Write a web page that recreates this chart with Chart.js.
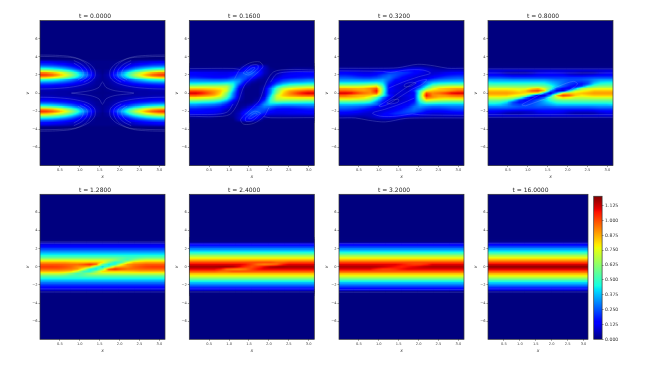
<!DOCTYPE html>
<html><head><meta charset="utf-8">
<script src="https://cdn.jsdelivr.net/npm/chart.js@4/dist/chart.umd.js"></script>
<style>html,body{margin:0;padding:0;background:#fff;overflow:hidden}#w{position:relative;width:668px;height:366px}canvas{position:absolute}</style>
</head><body><div id="w"></div>
<script>
// grid nodes
const xNodes21=[0,.157,.314,.471,.628,.785,.942,1.1,1.257,1.414,1.571,1.728,1.885,2.042,2.199,2.356,2.513,2.67,2.827,2.985,3.1416];
const xNodes2=[0,3.1416];
const vNodes29=[3.5,3.25,3,2.75,2.5,2.25,2,1.75,1.5,1.25,1,.75,.5,.25,0,-.25,-.5,-.75,-1,-1.25,-1.5,-1.75,-2,-2.25,-2.5,-2.75,-3,-3.25,-3.5];
const vNodes25=[3,2.75,2.5,2.25,2,1.75,1.5,1.25,1,.75,.5,.25,0,-.25,-.5,-.75,-1,-1.25,-1.5,-1.75,-2,-2.25,-2.5,-2.75,-3];
const xTicks=[.5,1,1.5,2,2.5,3];
const vTicks=[-6,-4,-2,0,2,4,6];
const cbTicks=[0,.125,.25,.375,.5,.625,.75,.875,1,1.125];
const titles=['t = 0.0000','t = 0.1600','t = 0.3200','t = 0.8000','t = 1.2800','t = 2.4000','t = 3.2000','t = 16.0000'];
// values in hundredths, rows from top (high v) to bottom
const f0000=[
[10,10,9,8,7,5,3,2,1,1,1,1,1,2,3,5,7,8,9,10,10],
[17,17,16,14,12,9,7,4,2,1,1,1,2,4,7,9,12,14,16,17,17],
[28,27,26,23,20,16,11,7,3,1,1,1,3,7,11,16,20,23,26,27,28],
[44,43,41,37,32,26,18,12,6,1,1,1,6,12,18,26,32,37,41,43,44],
[65,64,60,55,48,40,29,19,10,3,1,3,10,19,29,40,48,55,60,64,65],
[92,90,85,78,68,57,43,28,15,4,1,4,15,28,43,57,68,78,85,90,92],
[105,103,98,89,78,65,49,34,20,6,2,6,20,34,49,65,78,89,98,103,105],
[89,87,83,76,66,55,42,28,16,5,2,5,16,28,42,55,66,76,83,87,89],
[53,52,49,45,39,33,25,17,10,4,2,4,10,17,25,33,39,45,49,52,53],
[36,35,34,31,27,23,17,12,7,3,2,3,7,12,17,23,27,31,34,35,36],
[22,22,21,19,17,14,11,8,5,3,2,3,5,8,11,14,17,19,21,22,22],
[13,13,12,11,10,8,7,5,4,2,2,2,4,5,7,8,10,11,12,13,13],
[8,8,8,7,7,6,5,4,3,2,1,2,3,4,5,6,7,7,8,8,8],
[5,5,5,4,4,4,3,3,2,2,1,2,2,3,3,4,4,4,5,5,5],
[4,4,4,4,4,3,3,2,2,1,1,1,2,2,3,3,4,4,4,4,4],
[5,5,5,4,4,4,3,3,2,2,1,2,2,3,3,4,4,4,5,5,5],
[8,8,8,7,7,6,5,4,3,2,1,2,3,4,5,6,7,7,8,8,8],
[13,13,12,11,10,8,7,5,4,2,2,2,4,5,7,8,10,11,12,13,13],
[22,22,21,19,17,14,11,8,5,3,2,3,5,8,11,14,17,19,21,22,22],
[36,35,34,31,27,23,17,12,7,3,2,3,7,12,17,23,27,31,34,35,36],
[53,52,49,45,39,33,25,17,10,4,2,4,10,17,25,33,39,45,49,52,53],
[89,87,83,76,66,55,42,28,16,5,2,5,16,28,42,55,66,76,83,87,89],
[105,103,98,89,78,65,49,34,20,6,2,6,20,34,49,65,78,89,98,103,105],
[92,90,85,78,68,57,43,28,15,4,1,4,15,28,43,57,68,78,85,90,92],
[65,64,60,55,48,40,29,19,10,3,1,3,10,19,29,40,48,55,60,64,65],
[44,43,41,37,32,26,18,12,6,1,1,1,6,12,18,26,32,37,41,43,44],
[28,27,26,23,20,16,11,7,3,1,1,1,3,7,11,16,20,23,26,27,28],
[17,17,16,14,12,9,7,4,2,1,1,1,2,4,7,9,12,14,16,17,17],
[10,10,9,8,7,5,3,2,1,1,1,1,1,2,3,5,7,8,9,10,10]];
const f0160=[
[0,0,0,0,0,0,0,0,0,5,10,12,6,0,0,0,0,0,0,0,0],
[2,2,2,2,2,2,2,2,4,13,18,17,8,1,0,0,1,2,2,2,2],
[6,6,6,6,6,6,6,6,8,17,21,17,7,2,1,3,5,6,6,6,6],
[13,13,12,12,12,11,11,12,18,24,25,19,7,2,3,8,11,12,13,13,13],
[15,15,14,13,12,12,12,15,22,26,24,15,5,2,5,11,13,14,15,15,15],
[18,18,17,16,15,15,16,21,25,24,18,9,3,3,8,13,15,16,17,18,18],
[27,27,26,25,24,24,25,29,30,22,11,4,2,5,13,19,22,24,25,27,27],
[35,35,35,35,35,35,37,40,32,14,5,2,2,8,18,26,30,32,33,35,35],
[48,48,49,50,50,51,52,46,26,8,2,1,2,11,26,37,43,45,46,48,48],
[65,65,66,66,66,67,67,48,18,4,1,1,4,18,40,52,58,61,63,65,65],
[82,82,82,81,80,78,72,44,12,2,1,1,6,28,52,68,74,78,80,82,82],
[100,100,98,94,90,84,72,38,8,1,1,1,7,30,58,78,88,92,96,100,100],
[112,112,108,100,92,82,62,32,8,1,1,1,8,32,62,82,92,100,108,112,112],
[100,100,96,92,88,78,58,30,7,1,1,1,8,38,72,84,90,94,98,100,100],
[82,82,80,78,74,68,52,28,6,1,1,2,12,44,72,78,80,81,82,82,82],
[65,65,63,61,58,52,40,18,4,1,1,4,18,48,67,67,66,66,66,65,65],
[48,48,46,45,43,37,26,11,2,1,2,8,26,46,52,51,50,50,49,48,48],
[35,35,33,32,30,26,18,8,2,2,5,14,32,40,37,35,35,35,35,35,35],
[27,27,25,24,22,19,13,5,2,4,11,22,30,29,25,24,24,25,26,27,27],
[18,18,17,16,15,13,8,3,3,9,18,24,25,21,16,15,15,16,17,18,18],
[15,15,15,14,13,11,5,2,5,15,24,26,22,15,12,12,12,13,14,15,15],
[13,13,13,12,11,8,3,2,7,19,25,24,18,12,11,11,12,12,12,13,13],
[6,6,6,6,5,3,1,2,7,17,21,17,8,6,6,6,6,6,6,6,6],
[2,2,2,2,1,0,0,1,8,17,18,13,4,2,2,2,2,2,2,2,2],
[0,0,0,0,0,0,0,0,6,12,10,5,0,0,0,0,0,0,0,0,0]];
const f0320=[
[0,0,0,0,0,0,0,0,0,0,1,2,3,3,2,1,0,0,0,0,0],
[3,3,3,3,3,3,3,3,3,3,5,8,9,9,7,5,3,3,3,3,3],
[7,7,7,7,6,6,7,8,10,12,14,16,15,13,10,7,6,6,7,7,7],
[13,13,12,11,10,10,12,15,20,22,22,20,16,12,9,8,9,11,12,13,13],
[18,18,17,15,14,14,16,22,26,24,20,16,12,10,9,10,12,15,17,18,18],
[24,24,23,21,20,20,22,26,28,22,16,12,10,9,10,14,18,21,23,24,24],
[30,30,30,29,28,28,30,33,27,17,13,11,9,10,16,22,26,28,29,30,30],
[38,38,38,38,38,39,40,38,22,13,11,9,8,16,27,33,36,37,38,38,38],
[52,52,52,53,54,56,58,44,18,11,10,6,7,16,30,45,50,51,52,52,52],
[70,70,70,70,72,75,80,52,15,10,8,4,10,22,42,60,66,68,70,70,70],
[88,88,87,86,87,92,98,58,14,10,8,5,14,30,55,72,82,85,87,88,88],
[98,98,96,92,90,92,108,58,14,11,9,8,20,50,78,85,87,88,92,97,98],
[112,112,110,102,96,92,100,55,13,9,8,9,13,55,100,92,96,102,110,112,112],
[98,97,92,88,87,85,78,50,20,8,9,11,14,58,108,92,90,92,96,98,98],
[88,88,87,85,82,72,55,30,14,5,8,10,14,58,98,92,87,86,87,88,88],
[70,70,70,68,66,60,42,22,10,4,8,10,15,52,80,75,72,70,70,70,70],
[52,52,52,51,50,45,30,16,7,6,10,11,18,44,58,56,54,53,52,52,52],
[38,38,38,37,36,33,27,16,8,9,11,13,22,38,40,39,38,38,38,38,38],
[30,30,29,28,26,22,16,10,9,11,13,17,27,33,30,28,28,29,30,30,30],
[24,24,23,21,18,14,10,9,10,12,16,22,28,26,22,20,20,21,23,24,24],
[18,18,17,15,12,10,9,10,12,16,20,24,26,22,16,14,14,15,17,18,18],
[13,13,12,11,9,8,9,12,16,20,22,22,20,15,12,10,10,11,12,13,13],
[7,7,7,6,6,7,10,13,15,16,14,12,10,8,7,6,6,7,7,7,7],
[3,3,3,3,3,5,7,9,9,8,5,3,3,3,3,3,3,3,3,3,3],
[0,0,0,0,0,1,2,3,3,2,1,0,0,0,0,0,0,0,0,0,0]];
const f0800=[
[0,0,0,0,0,0,0,0,0,0,0,0,0,0,0,0,0,0,0,0,0],
[2,2,2,2,2,2,2,2,2,2,2,2,2,2,2,2,2,2,2,2,2],
[9,9,9,9,9,9,9,9,9,9,9,9,9,9,9,9,9,9,9,9,9],
[10,10,8,5,4,4,4,6,9,10,11,10,9,7,6,4,4,5,8,10,10],
[14,14,13,11,10,10,10,11,13,14,14,14,13,10,9,9,10,11,13,14,14],
[22,22,22,21,20,20,20,20,20,20,20,20,20,20,20,20,21,22,22,22,22],
[32,32,32,31,30,30,30,30,30,30,28,26,26,24,24,25,27,30,32,32,32],
[42,40,40,40,40,40,40,40,40,40,36,32,28,24,22,21,24,34,40,42,42],
[50,50,50,50,50,50,50,50,50,48,42,35,28,22,18,16,24,42,48,50,50],
[60,60,60,60,60,60,60,60,60,58,50,38,26,18,14,22,45,55,60,60,60],
[74,74,74,74,73,72,72,80,85,72,55,25,14,10,32,62,70,73,74,74,74],
[85,85,85,85,83,80,85,98,102,85,32,9,8,40,70,76,80,85,85,85,85],
[90,90,90,90,88,85,82,82,78,34,7,34,78,82,82,85,88,90,90,90,90],
[85,85,85,85,80,76,70,40,8,9,32,85,102,98,85,80,83,85,85,85,85],
[74,74,74,73,70,62,32,10,14,25,55,72,85,80,72,72,73,74,74,74,74],
[60,60,60,55,45,22,14,18,26,38,50,58,60,60,60,60,60,60,60,60,60],
[50,50,48,42,24,16,18,22,28,35,42,48,50,50,50,50,50,50,50,50,50],
[42,42,40,34,24,21,22,24,28,32,36,40,40,40,40,40,40,40,40,40,42],
[32,32,32,30,27,25,24,24,26,26,28,30,30,30,30,30,30,31,32,32,32],
[22,22,22,22,21,20,20,20,20,20,20,20,20,20,20,20,20,21,22,22,22],
[14,14,13,11,10,9,9,10,13,14,14,14,13,11,10,10,10,11,13,14,14],
[10,10,8,5,4,4,6,7,9,10,11,10,9,6,4,4,4,5,8,10,10],
[9,9,9,9,9,9,9,9,9,9,9,9,9,9,9,9,9,9,9,9,9],
[2,2,2,2,2,2,2,2,2,2,2,2,2,2,2,2,2,2,2,2,2],
[0,0,0,0,0,0,0,0,0,0,0,0,0,0,0,0,0,0,0,0,0]];
const f1280=[
[0,0,0,0,0,0,0,0,0,0,0,0,0,0,0,0,0,0,0,0,0],
[2,2,2,2,2,2,2,2,2,2,2,2,2,2,2,2,2,2,2,2,2],
[10,10,10,10,10,10,10,10,10,10,10,10,10,10,10,10,10,10,10,10,10],
[15,15,15,15,15,15,15,15,15,15,15,15,15,15,15,15,15,15,15,15,15],
[21,21,21,21,21,21,21,21,21,21,21,21,21,21,21,21,21,21,21,21,21],
[30,30,30,30,30,30,30,30,30,30,30,30,30,30,30,30,30,30,30,30,30],
[38,38,38,38,38,38,38,38,38,38,38,38,38,38,38,38,38,38,38,38,38],
[46,46,46,46,46,46,46,46,46,46,46,46,46,46,46,46,46,46,46,46,46],
[57,57,57,57,57,57,57,57,57,57,57,57,57,55,52,52,55,57,57,57,57],
[73,73,73,73,73,73,73,73,72,72,72,70,64,56,52,62,70,73,73,73,73],
[88,88,88,88,88,86,85,84,85,85,82,62,46,50,72,84,86,88,88,88,88],
[98,98,98,98,97,96,96,100,106,100,60,42,45,75,90,94,96,98,98,98,98],
[103,103,103,102,100,97,92,90,85,55,40,55,85,90,92,97,100,102,103,103,103],
[98,98,98,98,96,94,90,75,45,42,60,100,106,100,96,96,97,98,98,98,98],
[88,88,88,88,86,84,72,50,46,62,82,85,85,84,85,86,88,88,88,88,88],
[73,73,73,73,70,62,52,56,64,70,72,72,72,73,73,73,73,73,73,73,73],
[57,57,57,57,55,52,52,55,57,57,57,57,57,57,57,57,57,57,57,57,57],
[46,46,46,46,46,46,46,46,46,46,46,46,46,46,46,46,46,46,46,46,46],
[38,38,38,38,38,38,38,38,38,38,38,38,38,38,38,38,38,38,38,38,38],
[30,30,30,30,30,30,30,30,30,30,30,30,30,30,30,30,30,30,30,30,30],
[21,21,21,21,21,21,21,21,21,21,21,21,21,21,21,21,21,21,21,21,21],
[15,15,15,15,15,15,15,15,15,15,15,15,15,15,15,15,15,15,15,15,15],
[10,10,10,10,10,10,10,10,10,10,10,10,10,10,10,10,10,10,10,10,10],
[2,2,2,2,2,2,2,2,2,2,2,2,2,2,2,2,2,2,2,2,2],
[0,0,0,0,0,0,0,0,0,0,0,0,0,0,0,0,0,0,0,0,0]];
const f2400=[
[0,0,0,0,0,0,0,0,0,0,0,0,0,0,0,0,0,0,0,0,0],
[1,1,1,1,1,1,1,1,1,1,1,1,1,1,1,1,1,1,1,1,1],
[12,12,12,12,12,12,12,12,12,12,12,12,12,12,12,12,12,12,12,12,12],
[20,20,20,20,20,20,20,20,20,20,20,20,20,20,20,20,20,20,20,20,20],
[29,29,29,29,29,29,29,29,29,29,29,29,29,29,29,29,29,29,29,29,29],
[39,39,39,39,39,39,39,39,39,39,39,39,39,39,39,39,39,39,39,39,39],
[50,50,50,50,50,50,50,50,50,50,50,50,50,50,50,50,50,50,50,50,50],
[63,63,63,63,63,63,63,63,63,63,63,63,63,63,63,63,63,63,63,63,63],
[76,76,76,76,76,76,76,76,76,76,76,76,76,76,76,76,76,76,76,76,76],
[87,87,87,87,87,87,87,87,87,87,87,87,87,87,87,87,87,87,87,87,87],
[100,100,100,100,100,100,100,100,100,100,100,100,100,100,97,97,100,100,100,100,100],
[110,110,110,110,110,110,110,110,110,108,102,95,92,93,96,106,110,110,110,110,110],
[117,117,117,117,117,118,118,116,110,104,100,104,110,116,118,118,117,117,117,117,117],
[110,110,110,110,110,106,96,93,92,95,102,108,110,110,110,110,110,110,110,110,110],
[100,100,100,100,100,97,97,100,100,100,100,100,100,100,100,100,100,100,100,100,100],
[87,87,87,87,87,87,87,87,87,87,87,87,87,87,87,87,87,87,87,87,87],
[76,76,76,76,76,76,76,76,76,76,76,76,76,76,76,76,76,76,76,76,76],
[63,63,63,63,63,63,63,63,63,63,63,63,63,63,63,63,63,63,63,63,63],
[50,50,50,50,50,50,50,50,50,50,50,50,50,50,50,50,50,50,50,50,50],
[39,39,39,39,39,39,39,39,39,39,39,39,39,39,39,39,39,39,39,39,39],
[29,29,29,29,29,29,29,29,29,29,29,29,29,29,29,29,29,29,29,29,29],
[20,20,20,20,20,20,20,20,20,20,20,20,20,20,20,20,20,20,20,20,20],
[12,12,12,12,12,12,12,12,12,12,12,12,12,12,12,12,12,12,12,12,12],
[1,1,1,1,1,1,1,1,1,1,1,1,1,1,1,1,1,1,1,1,1],
[0,0,0,0,0,0,0,0,0,0,0,0,0,0,0,0,0,0,0,0,0]];
const f3200=[
[0,0,0,0,0,0,0,0,0,0,0,0,0,0,0,0,0,0,0,0,0],
[1,1,1,1,1,1,1,1,1,1,1,1,1,1,1,1,1,1,1,1,1],
[12,12,12,12,12,12,12,12,12,12,12,12,12,12,12,12,12,12,12,12,12],
[20,20,20,20,20,20,20,20,20,20,20,20,20,20,20,20,20,20,20,20,20],
[29,29,29,29,29,29,29,29,29,29,29,29,29,29,29,29,29,29,29,29,29],
[39,39,39,39,39,39,39,39,39,39,39,39,39,39,39,39,39,39,39,39,39],
[50,50,50,50,50,50,50,50,50,50,50,50,50,50,50,50,50,50,50,50,50],
[63,63,63,63,63,63,63,63,63,63,63,63,63,63,63,63,63,63,63,63,63],
[76,76,76,76,76,76,76,76,76,76,76,76,76,76,76,76,76,76,76,76,76],
[87,87,87,87,87,87,87,87,87,87,87,87,87,87,87,87,87,87,87,87,87],
[100,100,100,100,100,100,100,100,100,100,100,100,100,100,100,100,100,100,100,100,100],
[110,110,110,110,110,110,110,110,110,110,108,104,102,102,105,110,110,110,110,110,110],
[116,116,116,116,116,116,115,113,110,108,106,108,110,113,115,116,116,116,116,116,116],
[110,110,110,110,110,110,105,102,102,104,108,110,110,110,110,110,110,110,110,110,110],
[100,100,100,100,100,100,100,100,100,100,100,100,100,100,100,100,100,100,100,100,100],
[87,87,87,87,87,87,87,87,87,87,87,87,87,87,87,87,87,87,87,87,87],
[76,76,76,76,76,76,76,76,76,76,76,76,76,76,76,76,76,76,76,76,76],
[63,63,63,63,63,63,63,63,63,63,63,63,63,63,63,63,63,63,63,63,63],
[50,50,50,50,50,50,50,50,50,50,50,50,50,50,50,50,50,50,50,50,50],
[39,39,39,39,39,39,39,39,39,39,39,39,39,39,39,39,39,39,39,39,39],
[29,29,29,29,29,29,29,29,29,29,29,29,29,29,29,29,29,29,29,29,29],
[20,20,20,20,20,20,20,20,20,20,20,20,20,20,20,20,20,20,20,20,20],
[12,12,12,12,12,12,12,12,12,12,12,12,12,12,12,12,12,12,12,12,12],
[1,1,1,1,1,1,1,1,1,1,1,1,1,1,1,1,1,1,1,1,1],
[0,0,0,0,0,0,0,0,0,0,0,0,0,0,0,0,0,0,0,0,0]];
const f16000=[[0,0],[2,2],[12,12],[21,21],[31,31],[41,41],[52,52],[65,65],[77,77],[88,88],[100,100],[111,111],[119,119],[111,111],[100,100],[88,88],[77,77],[65,65],[52,52],[41,41],[31,31],[21,21],[12,12],[2,2],[0,0]];
// contour lines (x, v)
const PI=3.1416;
const h=v=>[[0,v],[PI,v]];
const rev=l=>l.map(p=>[PI-p[0],-p[1]]);
const four=l=>[l,l.map(p=>[PI-p[0],p[1]]),l.map(p=>[p[0],-p[1]]),l.map(p=>[PI-p[0],-p[1]])];
const two=l=>[l,rev(l)];
const c0000=[
 [[.79,0],[1.25,.26],[1.48,.63],[1.57,1.22],[1.66,.63],[1.89,.26],[2.36,0],[1.89,-.26],[1.66,-.63],[1.57,-1.22],[1.48,-.63],[1.25,-.26],[.79,0]],
 ...four([[0,4.2],[.4,4.17],[.75,4.05],[1,3.75],[1.25,3.2],[1.38,2.5],[1.37,1.7],[1.2,1.1],[.85,.7],[.4,.5],[0,.45]]),
 ...four([[0,4.05],[.5,4],[.9,3.85],[1.15,3.3],[1.28,2.5],[1.27,1.7],[1.1,1.2]]),
 ...four([[.85,3.6],[1.05,3.15],[1.18,2.5],[1.17,1.75],[1,1.3]]),
 ...four([[.85,3.3],[1,2.9],[1.08,2.4],[1.07,1.8],[.95,1.45]])];
const c0160=[
 ...two([[1.14,1.6],[1.27,2.6],[1.52,3.33],[1.77,3.44],[1.85,2.9],[1.62,1.9],[1.38,.8],[1.22,-1.1],[1.02,-2.35],[.64,-2.6],[0,-2.55]]),
 ...two([[0,2.7],[1.1,2.72],[1.27,2.6]]),
 ...two([[1.35,2.2],[1.55,3.05],[1.72,3.1],[1.72,2.7],[1.5,2],[1.35,2.2]]),
 ...two([[1.43,2.35],[1.58,2.8],[1.65,2.8],[1.6,2.5],[1.48,2.2],[1.43,2.35]]),
 ...two([[1.1,-1.2],[.95,-2.1],[.6,-2.35],[0,-2.35]])];
const c0320=[
 ...two([[0,2.74],[1,2.74],[1.48,2.8],[1.98,3.18],[2.4,3],[2.73,2.74],[PI,2.74]]),
 ...two([[0,2.45],[1.1,2.4],[1.3,2.3],[1.7,2.55],[2.1,2.55],[2.3,2.2],[2,1.8],[1.6,1.2],[1.25,.55]]),
 ...two([[1.2,-1.1],[1.35,-.75],[1.5,-.72],[1.48,-1],[1.3,-1.2],[1.2,-1.1]]),
 [[1,-1.4],[1.3,-.6],[1.65,.5],[1.95,1.25],[2.2,1.5],[2.1,1],[1.85,.45],[1.5,-.5],[1.25,-1.2],[1.05,-1.5],[1,-1.4]]];
const c0800=[h(2.67),h(2.22),h(-2.37),h(-2.67),
 [[.95,-1.4],[1.3,-.85],[1.6,-.4],[2,.2],[2.25,1],[2.15,1.3],[1.8,.8],[1.3,-.2],[1,-.9],[.85,-1.3],[.95,-1.4]]];
const c1280=[h(2.74),h(2.59),h(-2.44),h(-2.78)];
const c2400=[h(2.52),h(-2.44),h(-2.78)];
const c3200=[h(2.55),h(-2.52),h(-2.8)];
const c16000=[h(2.6),h(-2.44),h(-2.78)];
const panels=[
 {f:f0000,vs:vNodes29,xs:xNodes21,c:c0000},{f:f0160,vs:vNodes25,xs:xNodes21,c:c0160},
 {f:f0320,vs:vNodes25,xs:xNodes21,c:c0320},{f:f0800,vs:vNodes25,xs:xNodes21,c:c0800},
 {f:f1280,vs:vNodes25,xs:xNodes21,c:c1280},{f:f2400,vs:vNodes25,xs:xNodes21,c:c2400},
 {f:f3200,vs:vNodes25,xs:xNodes21,c:c3200},{f:f16000,vs:vNodes25,xs:xNodes2,c:c16000}];
// geometry of the axes boxes
const lefts=[40,189.3,339,488], tops=[20.6,194.3], W=125, H=145, VMAX=1.205;
Chart.defaults.font.family='"DejaVu Sans"';
Chart.defaults.animation=false;
// jet colormap
function seg(t,pts){for(let i=1;i<pts.length;i++){if(t<=pts[i][0]){const a=pts[i-1],b=pts[i];return a[1]+(b[1]-a[1])*(t-a[0])/(b[0]-a[0]);}}return pts[pts.length-1][1];}
const R=[[0,0],[.35,0],[.66,1],[.89,1],[1,.5]],G=[[0,0],[.125,0],[.375,1],[.64,1],[.91,0],[1,0]],B=[[0,.5],[.11,1],[.34,1],[.65,0],[1,0]];
function jet(t){t=Math.max(0,Math.min(1,t));return [seg(t,R)*255,seg(t,G)*255,seg(t,B)*255];}
const navy='rgb(0,0,127)';
// each value is drawn as a tile that blends smoothly towards its neighbours
function tile(chart,ds,raw){
 const sx=chart.scales.x,sy=chart.scales.y,p=ds.panel,nr=p.f.length,nc=p.f[0].length;
 if(!sx||!sy||!chart.chartArea)return 'rect';
 const cw=Math.abs(sx.getPixelForValue(p.xs[1])-sx.getPixelForValue(p.xs[0]));
 const ch=Math.abs(sy.getPixelForValue(p.vs[1])-sy.getPixelForValue(p.vs[0]));
 if(!(cw>0&&ch>0&&isFinite(cw)&&isFinite(ch)))return 'rect';
 const w=Math.ceil(cw)+2,hh=Math.ceil(ch)+2;
 const cv=document.createElement('canvas');cv.width=w;cv.height=hh;
 const g=cv.getContext('2d'),im=g.createImageData(w,hh);
 const at=(r,c)=>{if(r<0||r>=nr)return 0;return p.f[r][Math.max(0,Math.min(nc-1,c))]/100;};
 for(let j=0;j<hh;j++)for(let i=0;i<w;i++){
  const c=raw.c+(i+.5-w/2)/cw,r=raw.r+(j+.5-hh/2)/ch;
  const c0=Math.floor(c),r0=Math.floor(r),fc=c-c0,fr=r-r0;
  const val=(at(r0,c0)*(1-fc)+at(r0,c0+1)*fc)*(1-fr)+(at(r0+1,c0)*(1-fc)+at(r0+1,c0+1)*fc)*fr;
  const col=jet(val/VMAX),k=(j*w+i)*4;
  im.data[k]=col[0];im.data[k+1]=col[1];im.data[k+2]=col[2];im.data[k+3]=255;
 }
 g.putImageData(im,0,0);return cv;
}
const framePlugin={id:'frame',
 beforeDatasetsDraw(c){if(c.config.type!=='scatter')return;const a=c.chartArea,x=c.ctx;x.save();x.fillStyle=navy;x.fillRect(a.left,a.top,a.width,a.height);x.restore();},
 afterDraw(c){const a=c.chartArea,x=c.ctx;x.save();x.strokeStyle='#333';x.lineWidth=.7;x.strokeRect(a.left,a.top,a.width,a.height);x.restore();}};
function makeCanvas(l,t,w,h){const cv=document.createElement('canvas');cv.width=w;cv.height=h;cv.style.left=l+'px';cv.style.top=t+'px';document.getElementById('w').appendChild(cv);return cv;}
panels.forEach((p,i)=>{
 const col=i%4,row=i<4?0:1,pl=lefts[col],pt=tops[row],pw=(i===7)?100:W;
 const cl=Math.floor(pl)-15,ct=Math.floor(pt)-14,yW=pl-cl,top=pt-ct,cw=Math.ceil(yW+pw+8),chh=Math.ceil(top+H+14);
 const pts=[];p.f.forEach((rw,r)=>rw.forEach((v,c)=>pts.push({x:p.xs[c],y:p.vs[r],v:v/100,r,c})));
 const dsHeat={type:'scatter',data:pts,panel:p,clip:0,order:2,
  pointRadius:1,pointBorderWidth:0,
  pointStyle:ctx=>(ctx.type==='data'&&ctx.raw)?tile(ctx.chart,ctx.dataset,ctx.raw):'rect'};
 const dsLines=p.c.map(l=>({type:'scatter',order:1,showLine:true,clip:0,tension:.3,pointRadius:0,
  data:l.map(q=>({x:q[0],y:q[1]})),borderColor:'rgba(200,210,255,.42)',borderWidth:.45}));
 new Chart(makeCanvas(cl,ct,cw,chh),{type:'scatter',data:{datasets:[dsHeat,...dsLines]},plugins:[framePlugin],options:{
  responsive:false,events:[],devicePixelRatio:1,
  layout:{padding:{left:0,top:0,right:cw-yW-pw,bottom:0}},
  plugins:{legend:{display:false},tooltip:{enabled:false},
   title:{display:true,text:titles[i],color:'#222',font:{size:6,weight:'normal',lineHeight:1},padding:{top:top-6-1.3,bottom:1.3}}},
  scales:{
   x:{type:'linear',min:0,max:PI,afterFit:s=>{s.height=chh-top-H;},
    afterBuildTicks:s=>{s.ticks=xTicks.map(value=>({value}));},
    grid:{drawOnChartArea:false,tickLength:1.5,tickWidth:.5,color:'#333'},border:{display:false},
    ticks:{font:{size:3.6},color:'#444',padding:1,maxRotation:0,autoSkip:false,callback:v=>v.toFixed(1)},
    title:{display:true,text:'x',color:'#333',font:{size:4.5,style:'italic'},padding:{top:1,bottom:0}}},
   y:{type:'linear',min:-8,max:8,afterFit:s=>{s.width=yW;},
    afterBuildTicks:s=>{s.ticks=vTicks.map(value=>({value}));},
    grid:{drawOnChartArea:false,tickLength:1.5,tickWidth:.5,color:'#333'},border:{display:false},
    ticks:{font:{size:3.6},color:'#444',padding:1,autoSkip:false,callback:v=>v<0?'\u2212'+(-v):''+v},
    title:{display:true,text:'v',color:'#333',font:{size:4.5,style:'italic'},padding:{top:0,bottom:1}}}
  }}});
});
// colour bar
(function(){
 const pl=593.7,pt=tops[1],bw=8.4,cl=590,ct=Math.floor(pt)-2,top=pt-ct,cw=40,chh=Math.ceil(top+H+6);
 const barColor=ctx=>{const a=ctx.chart.chartArea;if(!a)return navy;const g=ctx.chart.ctx.createLinearGradient(0,a.bottom,0,a.top);
  [0,.11,.125,.34,.35,.375,.64,.65,.66,.89,.91,1].forEach(s=>{const c=jet(s);g.addColorStop(s,`rgb(${c[0]|0},${c[1]|0},${c[2]|0})`);});return g;};
 new Chart(makeCanvas(cl,ct,cw,chh),{type:'bar',data:{labels:['f'],datasets:[{data:[VMAX],backgroundColor:barColor,barPercentage:1,categoryPercentage:1,borderWidth:0}]},plugins:[framePlugin],options:{
  responsive:false,events:[],devicePixelRatio:1,
  layout:{padding:{left:pl-cl,top:top,right:cw-(pl-cl)-bw-18,bottom:chh-top-H}},
  plugins:{legend:{display:false},tooltip:{enabled:false}},
  scales:{x:{display:false},
   y:{position:'right',min:0,max:VMAX,afterFit:s=>{s.width=18;},
    afterBuildTicks:s=>{s.ticks=cbTicks.map(value=>({value}));},
    grid:{drawOnChartArea:false,tickLength:1.5,tickWidth:.5,color:'#333'},border:{display:false},
    ticks:{font:{size:4.6},color:'#333',padding:1.5,autoSkip:false,callback:v=>v.toFixed(3)}}}}});
})();
</script></body></html>
